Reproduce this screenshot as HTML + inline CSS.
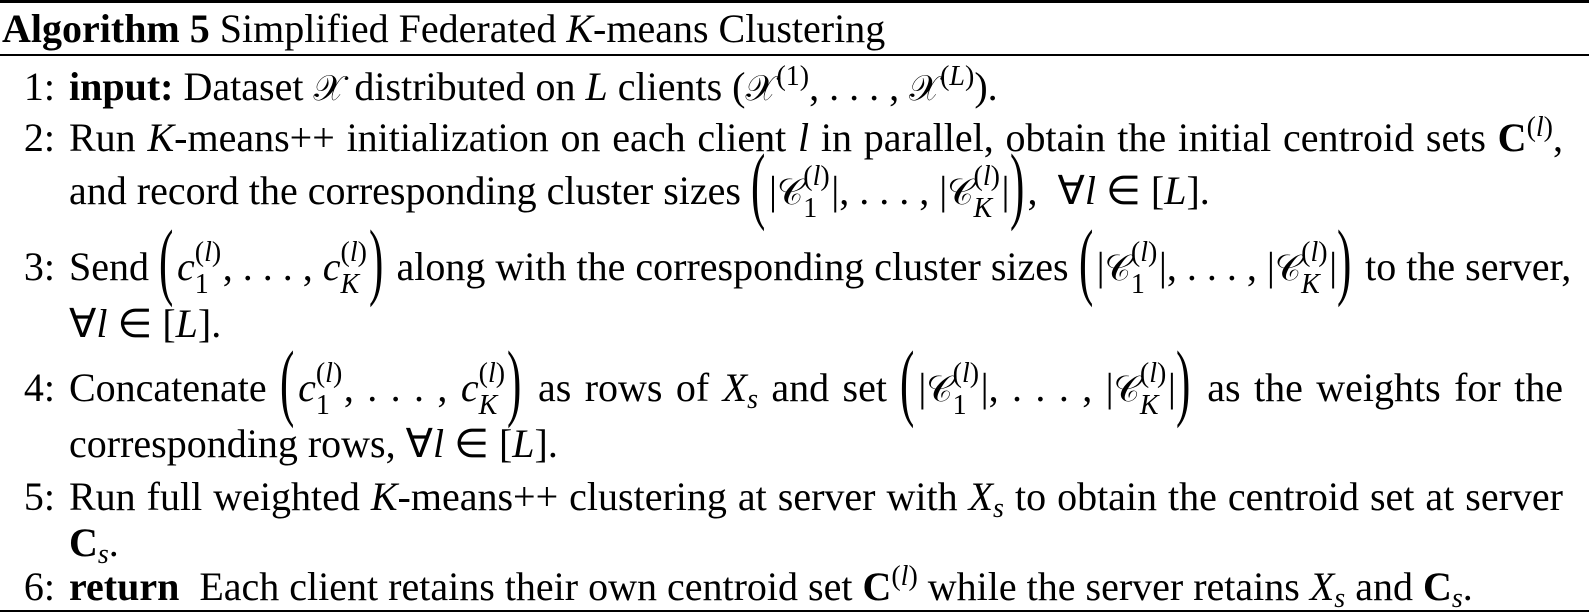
<!DOCTYPE html>
<html><head><meta charset="utf-8"><style>
body{margin:0;width:1589px;height:614px;background:#fff;position:relative;overflow:hidden;font-family:"Liberation Serif",serif;font-size:40px;color:#000}
.r{position:absolute;left:0;background:#000;width:1589px}
.l{position:absolute;left:69px;line-height:40px;height:40px;white-space:nowrap}
.j{width:1494px;text-align:justify;text-align-last:justify}
.n{position:absolute;left:0;width:55px;text-align:right;line-height:40px}
i{font-style:italic}
.pl,.pr{display:inline-block;position:relative;width:18px;height:1px}
.pl::before,.pr::before{position:absolute;left:0;top:-62px;font-size:86px;line-height:86px;transform:scaleX(0.5);transform-origin:left;font-weight:100}
.pl::before{content:"("}
.pr::before{content:")"}
.ss{display:inline-block;position:relative;width:28px;height:1px}
.ss .u{position:absolute;left:0;top:-40px;font-size:28px;line-height:28px}
.ss .d{position:absolute;left:0;top:-8px;font-size:28px;line-height:28px}
.sup{font-size:28px;vertical-align:15px;line-height:0}
.sub{font-size:28px;font-style:italic;vertical-align:-7px;line-height:0}
.cal{font-style:normal;font-size:36px}
</style></head><body>
<div class="r" style="top:0;height:3px"></div>
<div class="l" style="left:2px;top:9px"><b>Algorithm 5</b> Simplified Federated <i>K</i>-means Clustering</div>
<div class="r" style="top:54px;height:2px"></div>

<div class="n" style="top:67px">1:</div>
<div class="l" style="top:67px"><b>input:</b> Dataset <span class="cal">𝒳</span> distributed on <i>L</i> clients (<span class="cal">𝒳</span><span class="sup">(1)</span>, . . . , <span class="cal">𝒳</span><span class="sup">(<i>L</i>)</span>).</div>

<div class="n" style="top:118px">2:</div>
<div class="l j" style="top:118px">Run <i>K</i>-means++ initialization on each client <i>l</i> in parallel, obtain the initial centroid sets <b>C</b><span class="sup">(<i>l</i>)</span>,</div>
<div class="l" style="top:171px">and record the corresponding cluster sizes <span class="pl"></span>|<span class="cal">𝒞</span><span class="ss"><span class="u">(<i>l</i>)</span><span class="d">1</span></span>|, . . . , |<span class="cal">𝒞</span><span class="ss"><span class="u">(<i>l</i>)</span><span class="d"><i>K</i></span></span>|<span class="pr"></span>, &nbsp;∀<i>l</i> ∈ [<i>L</i>].</div>

<div class="n" style="top:247px">3:</div>
<div class="l j" style="top:247px">Send <span class="pl"></span><i>c</i><span class="ss"><span class="u">(<i>l</i>)</span><span class="d">1</span></span>, . . . , <i>c</i><span class="ss"><span class="u">(<i>l</i>)</span><span class="d"><i>K</i></span></span><span class="pr"></span> along with the corresponding cluster sizes <span class="pl"></span>|<span class="cal">𝒞</span><span class="ss"><span class="u">(<i>l</i>)</span><span class="d">1</span></span>|, . . . , |<span class="cal">𝒞</span><span class="ss"><span class="u">(<i>l</i>)</span><span class="d"><i>K</i></span></span>|<span class="pr"></span> to the server,</div>
<div class="l" style="top:304px">∀<i>l</i> ∈ [<i>L</i>].</div>

<div class="n" style="top:368px">4:</div>
<div class="l j" style="top:368px">Concatenate <span class="pl"></span><i>c</i><span class="ss"><span class="u">(<i>l</i>)</span><span class="d">1</span></span>, . . . , <i>c</i><span class="ss"><span class="u">(<i>l</i>)</span><span class="d"><i>K</i></span></span><span class="pr"></span> as rows of <i>X</i><span class="sub">s</span> and set <span class="pl"></span>|<span class="cal">𝒞</span><span class="ss"><span class="u">(<i>l</i>)</span><span class="d">1</span></span>|, . . . , |<span class="cal">𝒞</span><span class="ss"><span class="u">(<i>l</i>)</span><span class="d"><i>K</i></span></span>|<span class="pr"></span> as the weights for the</div>
<div class="l" style="top:424px">corresponding rows, ∀<i>l</i> ∈ [<i>L</i>].</div>

<div class="n" style="top:477px">5:</div>
<div class="l j" style="top:477px">Run full weighted <i>K</i>-means++ clustering at server with <i>X</i><span class="sub">s</span> to obtain the centroid set at server</div>
<div class="l" style="top:523px"><b>C</b><span class="sub">s</span>.</div>

<div class="n" style="top:567px">6:</div>
<div class="l" style="top:567px"><b>return</b>&nbsp; Each client retains their own centroid set <b>C</b><span class="sup">(<i>l</i>)</span> while the server retains <i>X</i><span class="sub">s</span> and <b>C</b><span class="sub">s</span>.</div>

<div class="r" style="top:610px;height:2px"></div>
</body></html>
